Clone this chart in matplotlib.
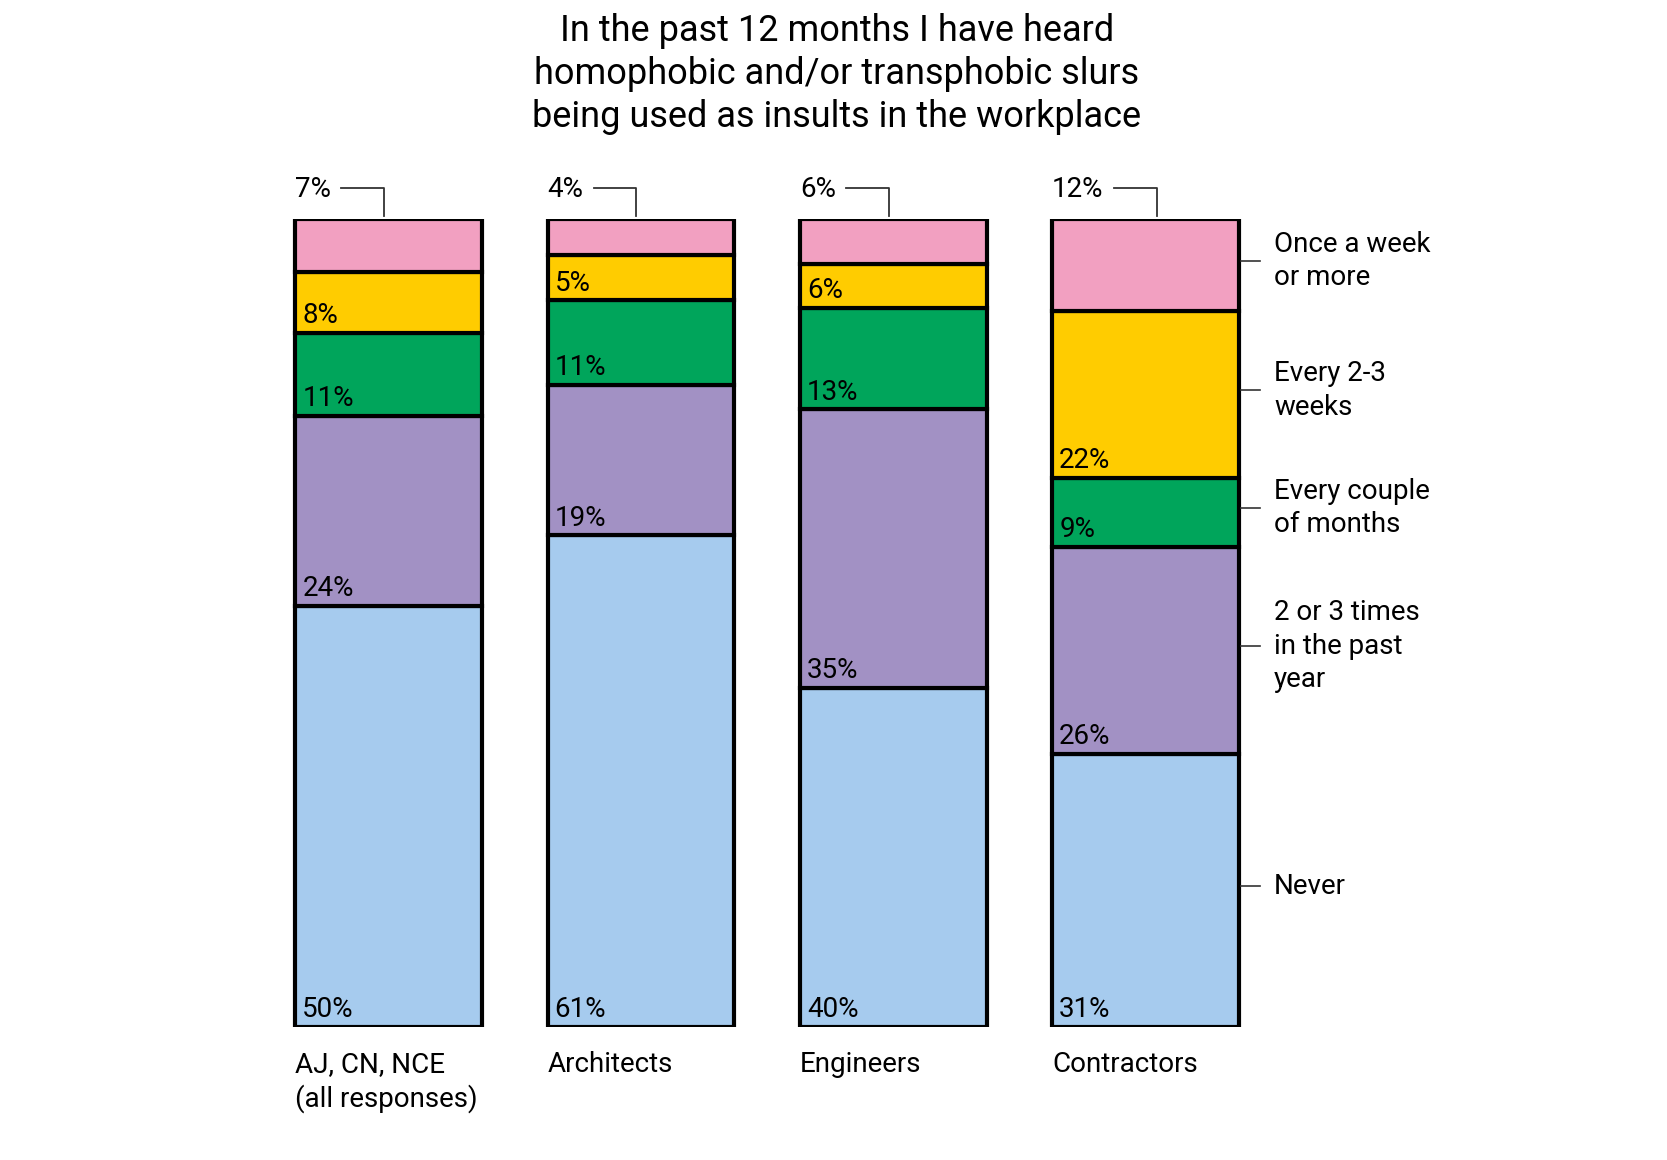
import matplotlib.pyplot as plt
import numpy as np

plt.rcParams['font.family'] = ['Roboto', 'DejaVu Sans']

# --- data ---
groups = ["AJ, CN, NCE\n(all responses)", "Architects", "Engineers", "Contractors"]
answers = ["Never", "2 or 3 times\nin the past\nyear", "Every couple\nof months",
           "Every 2-3\nweeks", "Once a week\nor more"]

# printed percentages
never_lbl = [50, 61, 40, 31]
few_times_lbl = [24, 19, 35, 26]
couple_months_lbl = [11, 11, 13, 9]
two_three_weeks_lbl = [8, 5, 6, 22]
weekly_lbl = [7, 4, 6, 12]

# segment heights as drawn in the original (share of bar, %)
never = [52.1, 60.8, 41.9, 33.8]
few_times = [23.5, 18.6, 34.5, 25.6]
couple_months = [10.3, 10.5, 12.6, 8.5]
two_three_weeks = [7.5, 5.6, 5.4, 20.7]
weekly = [6.6, 4.5, 5.6, 11.4]

colors = ["#a6cbee", "#a291c4", "#00a55b", "#ffcc00", "#f2a0c1"]

series = [never, few_times, couple_months, two_three_weeks, weekly]
labels = [never_lbl, few_times_lbl, couple_months_lbl, two_three_weeks_lbl, weekly_lbl]

fig = plt.figure(figsize=(16.67, 11.6), dpi=100)
ax = fig.add_axes([0, 0.1149, 1, 0.6966])
ax.set_xlim(-1.540, 5.067)
ax.set_ylim(0, 100)
ax.axis("off")

w = 0.74
x = np.arange(len(groups))
bottom = np.zeros(len(groups))
for vals, col in zip(series, colors):
    ax.bar(x, vals, width=w, bottom=bottom, color=col, edgecolor="black",
           linewidth=3, zorder=2)
    bottom += np.array(vals)

fs = 20

# labels inside segments (all but the top one)
for i in range(len(groups)):
    b = 0
    for vals, lbl in zip(series[:-1], labels[:-1]):
        ax.text(x[i] - w / 2 + 0.028, b + 1.2, f"{lbl[i]}%", fontsize=fs,
                ha="left", va="baseline", zorder=3)
        b += vals[i]

# top segment labels with leader line
fig.canvas.draw()
r = fig.canvas.get_renderer()
inv = ax.transData.inverted()
for i in range(len(groups)):
    t = ax.text(x[i] - w / 2, 103.6, f"{weekly_lbl[i]}%", fontsize=fs,
                ha="left", va="center", clip_on=False)
    bb = t.get_window_extent(r)
    xend = inv.transform((bb.x1, bb.y0))[0]
    x0 = xend + 0.04
    x1 = x0 + 0.17
    ax.plot([x0, x1, x1], [103.8, 103.8, 100.3], color="#333333", lw=1.3,
            clip_on=False, zorder=1)

# category labels
for i, g in enumerate(groups):
    ax.text(x[i] - w / 2, -3.0, g, fontsize=fs, ha="left", va="top",
            linespacing=1.3, clip_on=False)

# right side labels
last = len(groups) - 1
b = 0
for vals, lab in zip(series, answers):
    yc = b + vals[last] / 2 + 0.5
    b += vals[last]
    xr = x[last] + w / 2
    ax.plot([xr + 0.01, xr + 0.085], [yc, yc], color="#333333", lw=1.2,
            clip_on=False)
    ax.text(xr + 0.14, yc, lab, fontsize=fs, ha="left", va="center",
            linespacing=1.3, clip_on=False)

fig.text(0.502, 1 - 13 / 1160,
         "In the past 12 months I have heard\nhomophobic and/or transphobic slurs\n"
         "being used as insults in the workplace",
         fontsize=26, ha="center", va="top", linespacing=1.25)

fig.savefig("out.png", dpi=100)
